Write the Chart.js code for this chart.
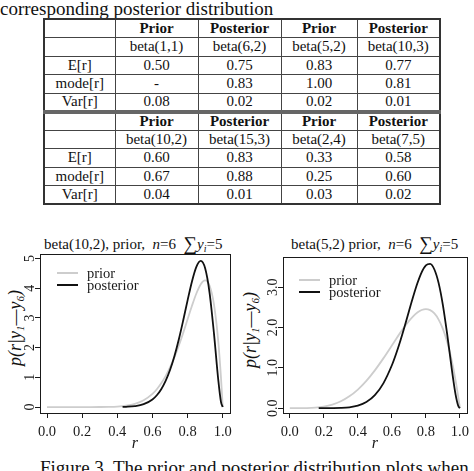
<!DOCTYPE html>
<html>
<head>
<meta charset="utf-8">
<script src="https://cdn.jsdelivr.net/npm/chart.js@4/dist/chart.umd.min.js"></script>
<style>
body{margin:0;background:#fff;width:474px;height:471px;overflow:hidden;position:relative;
  font-family:"Liberation Serif","Times New Roman",serif;color:#111}
.abs{position:absolute;white-space:nowrap;line-height:1}
#head{left:0;top:-1px;font-size:19px}
#caption{left:40px;top:458px;font-size:19px}
table{position:absolute;left:43px;top:18px;border-collapse:collapse;font-size:15px;border:2px solid #333}
td{border:1px solid #444;text-align:center;padding:0;line-height:1}
tr{height:18.5px}
tr.sep td{border-top:4px solid #666}
td.b{font-weight:bold}
.ttl{font-size:15px;top:233px}
.ttl .sig{font-size:19px;position:relative;top:1px}
.ttl sub{font-size:10px;vertical-align:-3px}
.ylab{font-size:18px;font-style:italic;transform:translate(-50%,-50%) rotate(-90deg)}
.ylab sub{font-size:11px;vertical-align:-3px}
canvas{position:absolute}
</style>
</head>
<body>
<div id="head" class="abs">corresponding posterior distribution</div>

<table>
<colgroup><col style="width:71px"><col style="width:83px"><col style="width:83px"><col style="width:76px"><col style="width:83px"></colgroup>
<tr><td></td><td class="b">Prior</td><td class="b">Posterior</td><td class="b">Prior</td><td class="b">Posterior</td></tr>
<tr><td></td><td>beta(1,1)</td><td>beta(6,2)</td><td>beta(5,2)</td><td>beta(10,3)</td></tr>
<tr><td>E[r]</td><td>0.50</td><td>0.75</td><td>0.83</td><td>0.77</td></tr>
<tr><td>mode[r]</td><td>-</td><td>0.83</td><td>1.00</td><td>0.81</td></tr>
<tr><td>Var[r]</td><td>0.08</td><td>0.02</td><td>0.02</td><td>0.01</td></tr>
<tr class="sep"><td></td><td class="b">Prior</td><td class="b">Posterior</td><td class="b">Prior</td><td class="b">Posterior</td></tr>
<tr><td></td><td>beta(10,2)</td><td>beta(15,3)</td><td>beta(2,4)</td><td>beta(7,5)</td></tr>
<tr><td>E[r]</td><td>0.60</td><td>0.83</td><td>0.33</td><td>0.58</td></tr>
<tr><td>mode[r]</td><td>0.67</td><td>0.88</td><td>0.25</td><td>0.60</td></tr>
<tr><td>Var[r]</td><td>0.04</td><td>0.01</td><td>0.03</td><td>0.02</td></tr>
</table>

<div class="abs ttl" style="left:44px">beta(10,2), prior,&nbsp; <i>n</i>=6&nbsp; <span class="sig">∑</span><i>y</i><sub><i>i</i></sub>=5</div>
<div class="abs ttl" style="left:291px">beta(5,2) prior,&nbsp; <i>n</i>=6&nbsp; <span class="sig">∑</span><i>y</i><sub><i>i</i></sub>=5</div>
<div class="abs ylab" style="left:16px;top:328px">p(r|y<sub>1</sub>—y<sub>6</sub>)</div>
<div class="abs ylab" style="left:251px;top:330px">p(r|y<sub>1</sub>—y<sub>6</sub>)</div>

<canvas id="left" width="237" height="203" style="left:0;top:250px"></canvas>
<canvas id="right" width="234" height="203" style="left:240px;top:250px"></canvas>

<div id="caption" class="abs">Figure 3. The prior and posterior distribution plots when</div>

<script>
// r values (x axis)
const rGrid = [0, 0.05, 0.1, 0.15, 0.2, 0.25, 0.3, 0.35, 0.4, 0.45, 0.5, 0.55, 0.6, 0.625, 0.65, 0.675,
               0.7, 0.725, 0.75, 0.775, 0.8, 0.825, 0.85, 0.875, 0.9, 0.925, 0.95, 0.975, 0.99, 1.0];

// left plot: beta(10,2) prior, posterior
const priorLeft = [0, 0, 0, 0, 0.0001, 0.0003, 0.0015, 0.0056, 0.0173, 0.0458, 0.107, 0.228, 0.443, 0.600, 0.797, 1.040,
                   1.332, 1.674, 2.065, 2.496, 2.953, 3.408, 3.822, 4.134, 4.262, 4.090, 3.466, 2.190, 1.000, 0];
const postLeftR = [0.43, 0.45, 0.5, 0.55, 0.6, 0.625, 0.65, 0.675, 0.7, 0.725, 0.75, 0.775, 0.8, 0.825, 0.85,
                   0.875, 0.9, 0.925, 0.95, 0.975, 0.99, 1.0];
const postLeft = [0.0049, 0.0086, 0.0311, 0.0958, 0.256, 0.398, 0.600, 0.878, 1.245, 1.710, 2.272, 2.912, 3.589, 4.227, 4.717,
                  4.916, 4.667, 3.852, 2.487, 0.895, 0.177, 0];

// right plot: beta(5,2) prior, posterior
const priorRight = [0, 0.0002, 0.0027, 0.0129, 0.0384, 0.0879, 0.170, 0.293, 0.461, 0.677, 0.938, 1.235, 1.555, 1.717, 1.874, 2.024,
                    2.161, 2.279, 2.373, 2.435, 2.458, 2.432, 2.349, 2.198, 1.968, 1.647, 1.222, 0.678, 0.288, 0];
const postRightR = [0.17, 0.2, 0.25, 0.3, 0.35, 0.4, 0.45, 0.5, 0.55, 0.6, 0.625, 0.65, 0.675, 0.7, 0.725, 0.75,
                    0.775, 0.8, 0.825, 0.85, 0.875, 0.9, 0.925, 0.95, 0.975, 0.99, 1.0];
const postRight = [0, 0.0002, 0.0014, 0.0064, 0.022, 0.062, 0.151, 0.322, 0.616, 1.064, 1.351, 1.675, 2.028, 2.397, 2.762, 3.097,
                   3.370, 3.543, 3.579, 3.440, 3.101, 2.557, 1.841, 1.040, 0.328, 0.060, 0];

const xTicks = [0, 0.2, 0.4, 0.6, 0.8, 1.0];
const leftYTicks = [0, 1, 2, 3, 4, 5];
const rightYTicks = [0, 1, 2, 3];
const seriesNames = ['prior', 'posterior'];

const SERIF = '"Liberation Serif", "Times New Roman", serif';
const INK = '#1a1a1a';

function pts(xs, ys){
    let out = [];
    for (let i = 0; i < xs.length; i++) {
        out.push({x: xs[i], y: ys[i]});
    }
    return out;
}

// R-like box, rotated y labels and an inset legend
const rStyle = {
    id: 'rStyle',
    afterDatasetsDraw(chart, args, opts){
        const ctx = chart.ctx;
        const a = chart.chartArea;
        ctx.save();
        ctx.strokeStyle = INK;
        ctx.lineWidth = 1;
        ctx.strokeRect(Math.round(a.left) + 0.5, Math.round(a.top) + 0.5,
                       Math.round(a.right - a.left), Math.round(a.bottom - a.top));

        // y tick labels, parallel to the axis
        const ys = chart.scales.y;
        ctx.fillStyle = INK;
        ctx.font = '14px ' + SERIF;
        ctx.textAlign = 'center';
        ctx.textBaseline = 'middle';
        ys.ticks.forEach(t => {
            const py = ys.getPixelForValue(t.value);
            ctx.save();
            ctx.translate(a.left - opts.labelOffset, py);
            ctx.rotate(-Math.PI / 2);
            ctx.fillText(opts.fmt(t.value), 0, 0);
            ctx.restore();
        });

        // legend
        ctx.font = '14.5px ' + SERIF;
        ctx.textAlign = 'left';
        const order = [1, 0];
        order.forEach((di, k) => {
            const ds = chart.data.datasets[di];
            const y = a.top + opts.legendY + k * 12;
            ctx.strokeStyle = ds.borderColor;
            ctx.lineWidth = 2;
            ctx.beginPath();
            ctx.moveTo(a.left + opts.legendX, y);
            ctx.lineTo(a.left + opts.legendX + 21, y);
            ctx.stroke();
            ctx.fillStyle = INK;
            ctx.fillText(ds.label, a.left + opts.legendX + 30, y + 1);
        });
        ctx.restore();
    }
};

function makeChart(id, priorR, prior, postR, post, cfg){
    return new Chart(document.getElementById(id), {
        type: 'line',
        data: {
            datasets: [{
                label: seriesNames[1],
                data: pts(postR, post),
                borderColor: '#111',
                borderWidth: 1.8,
                order: 1
            }, {
                label: seriesNames[0],
                data: pts(priorR, prior),
                borderColor: '#cdcdcd',
                borderWidth: 1.8,
                order: 2
            }]
        },
        options: {
            responsive: false,
            animation: false,
            parsing: false,
            elements: {
                point: {radius: 0},
                line: {cubicInterpolationMode: 'monotone', fill: false}
            },
            layout: {padding: cfg.padding},
            plugins: {
                legend: {display: false},
                tooltip: {enabled: false},
                rStyle: cfg.style
            },
            scales: {
                x: {
                    type: 'linear',
                    min: -0.04,
                    max: 1.04,
                    afterBuildTicks: s => { s.ticks = xTicks.map(v => ({value: v})); },
                    afterFit: s => { s.height = 40; },
                    ticks: {
                        autoSkip: false, maxRotation: 0, padding: 5, color: INK,
                        font: {family: SERIF, size: 14.5},
                        callback: v => v.toFixed(1)
                    },
                    grid: {drawOnChartArea: false, drawTicks: true, tickLength: 5, color: INK},
                    border: {display: false},
                    title: {display: true, text: 'r', color: INK, padding: 0,
                            font: {family: SERIF, size: 16, style: 'italic'}}
                },
                y: {
                    type: 'linear',
                    min: cfg.yMin,
                    max: cfg.yMax,
                    afterBuildTicks: s => { s.ticks = cfg.yTicks.map(v => ({value: v})); },
                    afterFit: s => { s.width = cfg.yWidth; },
                    ticks: {display: false},
                    grid: {drawOnChartArea: false, drawTicks: true, tickLength: 5, color: INK},
                    border: {display: false}
                }
            }
        },
        plugins: [rStyle]
    });
}

makeChart('left', rGrid, priorLeft, postLeftR, postLeft, {
    yMin: -0.2, yMax: 5.15, yTicks: leftYTicks, yWidth: 40,
    padding: {top: 4, right: 6, left: 0, bottom: 0},
    style: {labelOffset: 10, fmt: v => String(v), legendX: 17, legendY: 19}
});

makeChart('right', rGrid, priorRight, postRightR, postRight, {
    yMin: -0.12, yMax: 3.75, yTicks: rightYTicks, yWidth: 43,
    padding: {top: 7, right: 1, left: 0, bottom: 0},
    style: {labelOffset: 10, fmt: v => v.toFixed(1), legendX: 16, legendY: 23}
});
</script>
</body>
</html>
